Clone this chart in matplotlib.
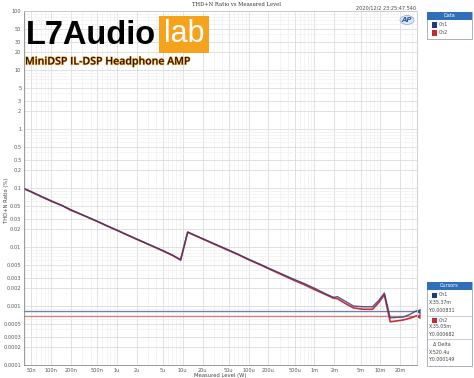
import matplotlib
matplotlib.use("Agg")
import matplotlib.pyplot as plt
from matplotlib.patches import Rectangle, Ellipse
import matplotlib.patheffects as pe
from matplotlib.ticker import FixedLocator, FixedFormatter, NullFormatter, LogLocator

# ---------------- data ----------------
level_w = [39e-9, 50e-9, 70e-9, 100e-9, 150e-9, 200e-9, 300e-9, 500e-9, 700e-9,
           1e-6, 1.5e-6, 2e-6, 3e-6, 5e-6, 7e-6, 9.3e-6, 11.9e-6, 15e-6, 20e-6,
           30e-6, 50e-6, 70e-6, 100e-6, 150e-6, 200e-6, 300e-6, 500e-6, 700e-6,
           1e-3, 1.5e-3, 1.94e-3, 2.23e-3, 2.95e-3, 3.9e-3, 5.5e-3, 7.6e-3,
           9.5e-3, 11.5e-3, 14.1e-3, 18e-3, 22.3e-3, 28e-3, 35.4e-3]
ch1_thdn = [0.098, 0.087, 0.073, 0.061, 0.050, 0.043, 0.035, 0.0275, 0.0231,
            0.0194, 0.0158, 0.0137, 0.0112, 0.0087, 0.0073, 0.0061, 0.0180, 0.0160, 0.0139,
            0.0114, 0.0089, 0.0075, 0.0062, 0.0051, 0.0044, 0.0036, 0.0028, 0.0024,
            0.0020, 0.0016, 0.00140, 0.00144, 0.00120, 0.00100, 0.00097, 0.00097,
            0.00125, 0.00166, 0.00063, 0.00064, 0.00065, 0.00072, 0.00083]
ch2_thdn = [0.097, 0.086, 0.072, 0.060, 0.050, 0.042, 0.035, 0.0272, 0.0229,
            0.0192, 0.0156, 0.0135, 0.0111, 0.0086, 0.0072, 0.0060, 0.0178, 0.0158, 0.0137,
            0.0112, 0.0087, 0.0074, 0.0061, 0.0050, 0.0043, 0.0035, 0.0027, 0.0023,
            0.0019, 0.00155, 0.00136, 0.00133, 0.00110, 0.00093, 0.00088, 0.00088,
            0.00115, 0.00155, 0.00054, 0.00056, 0.00058, 0.00062, 0.00068]
cursor_ch1 = 0.000831
cursor_ch2 = 0.000682

x_ticks = [50e-9, 100e-9, 200e-9, 500e-9, 1e-6, 2e-6, 5e-6, 10e-6, 20e-6, 50e-6,
           100e-6, 200e-6, 500e-6, 1e-3, 2e-3, 5e-3, 10e-3, 20e-3]
x_labels = ["50n", "100n", "200n", "500n", "1u", "2u", "5u", "10u", "20u", "50u",
            "100u", "200u", "500u", "1m", "2m", "5m", "10m", "20m"]
y_ticks = [0.0001, 0.0002, 0.0003, 0.0005, 0.001, 0.002, 0.003, 0.005, 0.01, 0.02,
           0.03, 0.05, 0.1, 0.2, 0.3, 0.5, 1, 2, 3, 5, 10, 20, 30, 50, 100]
y_labels = ["0.0001", "0.0002", "0.0003", "0.0005", "0.001", "0.002", "0.003", "0.005",
            "0.01", "0.02", "0.03", "0.05", "0.1", "0.2", "0.3", "0.5", "1", "2", "3",
            "5", "10", "20", "30", "50", "100"]

W, H = 474, 378
fig = plt.figure(figsize=(W / 100, H / 100), dpi=100)
fig.patch.set_facecolor("white")

def fx(x):
    return x / W

def fy(y):
    return 1 - y / H

ax = fig.add_axes([fx(24), fy(365), 393 / W, 354 / H])
ax.set_xscale("log")
ax.set_yscale("log")
ax.set_xlim(39e-9, 36e-3)
ax.set_ylim(0.0001, 100)

ax.xaxis.set_major_locator(FixedLocator(x_ticks))
ax.xaxis.set_major_formatter(FixedFormatter(x_labels))
ax.yaxis.set_major_locator(FixedLocator(y_ticks))
ax.yaxis.set_major_formatter(FixedFormatter(y_labels))
ax.xaxis.set_minor_locator(LogLocator(base=10, subs=range(1, 10), numticks=30))
ax.yaxis.set_minor_locator(LogLocator(base=10, subs=range(1, 10), numticks=30))
ax.xaxis.set_minor_formatter(NullFormatter())
ax.yaxis.set_minor_formatter(NullFormatter())
ax.grid(True, which="minor", color="#f0f0f0", lw=0.5)
ax.grid(True, which="major", color="#dcdcdc", lw=0.6)
ax.set_axisbelow(True)
ax.tick_params(which="both", length=0, labelsize=3.6, colors="#555555", pad=2)
for s in ax.spines.values():
    s.set_color("#c8c8c8")
    s.set_linewidth(0.6)
ax.spines["left"].set_color("#888888")
ax.spines["bottom"].set_color("#888888")

ax.axhline(cursor_ch1, color="#7080a8", lw=0.9)
ax.axhline(cursor_ch2, color="#d88080", lw=0.9)
ax.plot(level_w, ch2_thdn, color="#c0303a", lw=1.2)
ax.plot(level_w, ch1_thdn, color="#3a3a6e", lw=1.0, alpha=0.85)

ax.set_xlabel("Measured Level (W)", fontsize=3.8, color="#444444", labelpad=0.5)
fig.text(fx(7), fy(200), "THD+N Ratio (%)", fontsize=3.8, color="#444444",
         rotation=90, ha="center", va="center")

# header texts
fig.text(fx(237), fy(4), "THD+N Ratio vs Measured Level", fontsize=3.8,
         color="#333333", ha="center", va="center", family="DejaVu Serif")
fig.text(fx(416), fy(8.5), "2020/12/2 23:25:47.540", fontsize=3.6,
         color="#444444", ha="right", va="center")

# AP logo
ax.add_patch(Ellipse((fx(407), fy(20)), 14 / W, 9 / H, transform=fig.transFigure,
                     facecolor="#dde8f5", edgecolor="#8aa8d0", lw=0.5))
fig.text(fx(407), fy(20), "AP", fontsize=5, color="#2a5ca8", ha="center", va="center",
         style="italic", weight="bold")

# L7Audio lab logo
fig.text(fx(26), fy(35), "L7Audio", fontsize=23.5, weight="bold", color="black",
         family="Liberation Sans", ha="left", va="center")
fig.patches.append(Rectangle((fx(159), fy(53)), 50 / W, 37 / H, transform=fig.transFigure,
                             facecolor="#f5a21d", edgecolor="none", zorder=3))
fig.text(fx(184), fy(34), "lab", fontsize=22, color="white", family="Liberation Sans",
         ha="center", va="center", zorder=4)
fig.text(fx(25), fy(62), "MiniDSP IL-DSP Headphone AMP", fontsize=7.6, weight="semibold",
         color="#2b1800", family="Open Sans", ha="left", va="center",
         path_effects=[pe.withStroke(linewidth=0.8, foreground="#f2a23a")])

# cursor markers at right edge
for val, col in [(cursor_ch1, "#3a4a8a"), (cursor_ch2, "#c0303a")]:
    ax.plot([1.0], [val], marker=4, color=col, markersize=3, transform=ax.get_yaxis_transform(),
            clip_on=False)

# Data legend box
hdr = "#2f6fba"
def box(x0, y0, x1, y1):
    fig.patches.append(Rectangle((fx(x0), fy(y1)), (x1 - x0) / W, (y1 - y0) / H,
                                 transform=fig.transFigure, facecolor="white",
                                 edgecolor="#9aa6b4", lw=0.6))

def header(x0, y0, x1, y1, text):
    fig.patches.append(Rectangle((fx(x0), fy(y1)), (x1 - x0) / W, (y1 - y0) / H,
                                 transform=fig.transFigure, facecolor=hdr, edgecolor="none"))
    fig.text(fx((x0 + x1) / 2), fy((y0 + y1) / 2), text, fontsize=3.6, color="white",
             ha="center", va="center")

def swatch(x, y, col):
    fig.patches.append(Rectangle((fx(x), fy(y + 2.5)), 5 / W, 5 / H,
                                 transform=fig.transFigure, facecolor=col, edgecolor="none"))

def small(x, y, t, **kw):
    fig.text(fx(x), fy(y), t, fontsize=3.4, color="#444444", ha="left", va="center", **kw)

box(427, 12, 472, 39)
header(427, 12, 472, 19.5, "Data")
swatch(432, 25, "#1f3b7a")
small(439, 25, "Ch1")
swatch(432, 33, "#c42b30")
small(439, 33, "Ch2")

box(427, 282, 472, 366)
header(427, 282, 472, 289.5, "Cursors")
swatch(432, 295, "#1f3b7a")
small(439, 295, "Ch1")
small(428.5, 303, "X:35.37m")
small(428.5, 311, "Y:0.000831")
fig.lines.append(plt.Line2D([fx(427), fx(472)], [fy(316), fy(316)], transform=fig.transFigure,
                            color="#b0b8c4", lw=0.5))
swatch(432, 320, "#c42b30")
small(439, 320, "Ch2")
small(428.5, 327, "X:35.05m")
small(428.5, 334, "Y:0.000682")
fig.lines.append(plt.Line2D([fx(427), fx(472)], [fy(338.5), fy(338.5)], transform=fig.transFigure,
                            color="#b0b8c4", lw=0.5))
small(433, 345, "\u0394 Delta")
small(428.5, 352, "X:520.4u")
small(428.5, 359.5, "Y:0.000149")

fig.savefig("out.png", dpi=100, facecolor="white")
